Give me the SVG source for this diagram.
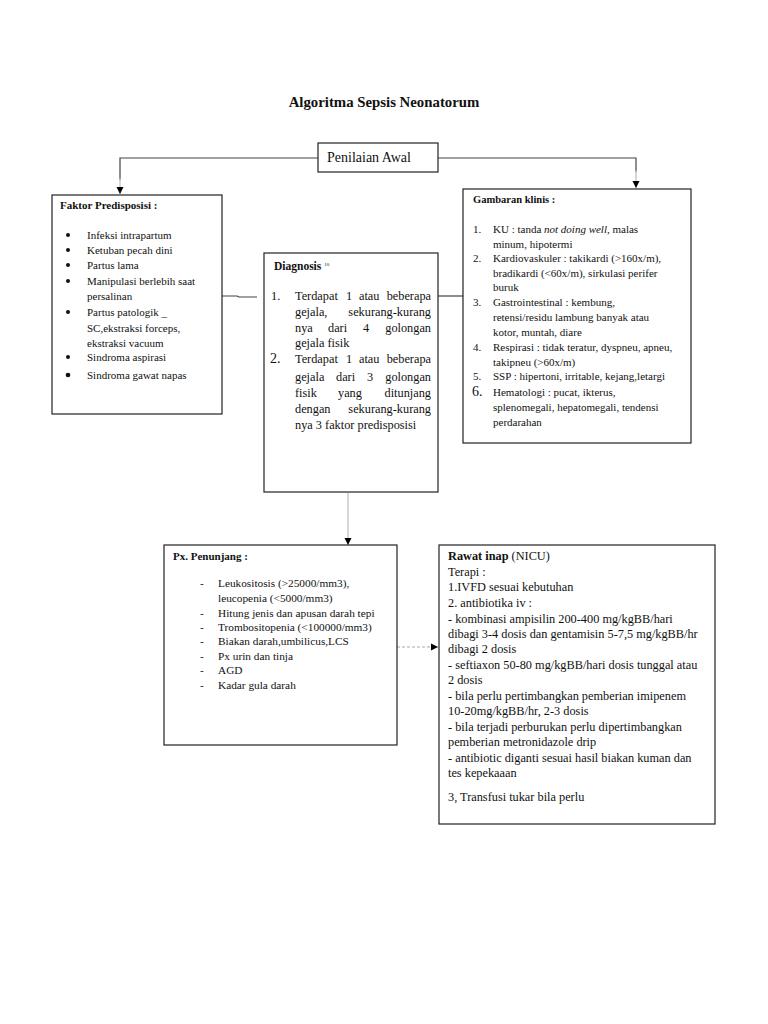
<svg xmlns="http://www.w3.org/2000/svg" width="768" height="1024" viewBox="0 0 768 1024">
<defs>
<marker id="arr" markerWidth="8" markerHeight="8" refX="7" refY="4" orient="auto" markerUnits="userSpaceOnUse">
<path d="M0,0.5 L7,4 L0,7.5 Z" fill="#000"/>
</marker>
<style>
.box{fill:#fff;stroke:#222;stroke-width:1.2}
.t{font-family:"Liberation Serif","Times New Roman",serif;fill:#111}
.b{font-weight:bold}
.ln{stroke:#444;stroke-width:1.2;fill:none}
.lt{stroke:#bbb;stroke-width:1.2;fill:none}
.dash{stroke:#aaa;stroke-width:1;stroke-dasharray:3,2;fill:none}
</style>
</defs>
<rect width="768" height="1024" fill="#fff"/>
<text class="t b" x="384" y="107" font-size="14.8" text-anchor="middle">Algoritma Sepsis Neonatorum</text>

<g id="connectors">
<path class="ln" d="M318,158 H120 V180"/>
<path class="lt" d="M120,178 V194" marker-end="url(#arr)"/>
<path class="ln" d="M438,158 H636 V172"/>
<path class="lt" d="M636,170 V188" marker-end="url(#arr)"/>
<path class="ln" d="M222,296 H237 L239,297 H257"/>
<path class="ln" d="M438,296 H463"/>
<path class="lt" d="M348,493 V545" marker-end="url(#arr)"/>
<path class="dash" d="M397,647 H438" marker-end="url(#arr)"/>
</g>

<g id="penilaian">
<rect class="box" x="318" y="143" width="120" height="29"/>
<text class="t" x="327" y="162" font-size="14">Penilaian Awal</text>
</g>

<g id="faktor">
<rect class="box" x="52" y="195" width="170" height="219"/>
<g class="t" font-size="11">
<text class="b" x="60" y="209">Faktor Predisposisi :</text>
<text x="87" y="239">Infeksi intrapartum</text>
<text x="87" y="254">Ketuban pecah dini</text>
<text x="87" y="269">Partus lama</text>
<text x="87" y="285">Manipulasi berlebih saat</text>
<text x="87" y="300">persalinan</text>
<text x="87" y="316">Partus patologik  _</text>
<text x="87" y="332">SC,ekstraksi forceps,</text>
<text x="87" y="347">ekstraksi vacuum</text>
<text x="87" y="361">Sindroma aspirasi</text>
<text x="87" y="379">Sindroma gawat napas</text>
</g>
<g fill="#111">
<circle cx="68" cy="235" r="2"/>
<circle cx="68" cy="250" r="2"/>
<circle cx="68" cy="265" r="2"/>
<circle cx="68" cy="281" r="2"/>
<circle cx="68" cy="312" r="2"/>
<circle cx="68" cy="357" r="2"/>
<circle cx="68" cy="375" r="2.3"/>
</g>
</g>

<g id="diagnosis">
<rect class="box" x="264" y="253" width="174" height="239"/>
<g class="t" font-size="12.3">
<text class="b" x="274" y="270" font-size="11.5">Diagnosis <tspan font-size="5" font-weight="normal" dy="-4">10</tspan></text>
<text x="271" y="300">1.</text>
<text y="300"><tspan x="295">Terdapat</tspan><tspan x="346">1</tspan><tspan x="359">atau</tspan><tspan x="431" text-anchor="end">beberapa</tspan></text>
<text y="316"><tspan x="295">gejala,</tspan><tspan x="431" text-anchor="end">sekurang-kurang</tspan></text>
<text y="332"><tspan x="295">nya</tspan><tspan x="328">dari</tspan><tspan x="363">4</tspan><tspan x="431" text-anchor="end">golongan</tspan></text>
<text x="295" y="347">gejala fisik</text>
<text x="270" y="363" font-size="14">2.</text>
<text y="363"><tspan x="295">Terdapat</tspan><tspan x="346">1</tspan><tspan x="359">atau</tspan><tspan x="431" text-anchor="end">beberapa</tspan></text>
<text y="381"><tspan x="295">gejala</tspan><tspan x="336">dari</tspan><tspan x="367">3</tspan><tspan x="431" text-anchor="end">golongan</tspan></text>
<text y="397"><tspan x="295">fisik</tspan><tspan x="338">yang</tspan><tspan x="431" text-anchor="end">ditunjang</tspan></text>
<text y="413"><tspan x="295">dengan</tspan><tspan x="431" text-anchor="end">sekurang-kurang</tspan></text>
<text x="295" y="429">nya 3 faktor predisposisi</text>
</g>
</g>

<g id="gambaran">
<rect class="box" x="463" y="189" width="228" height="254"/>
<g class="t" font-size="11">
<text class="b" x="473" y="203" font-size="10.5">Gambaran klinis :</text>
<text x="473" y="233">1.</text><text x="493" y="233">KU : tanda <tspan font-style="italic">not doing well,</tspan> malas</text>
<text x="493" y="248">minum, hipotermi</text>
<text x="473" y="262">2.</text><text x="493" y="262">Kardiovaskuler : takikardi (&gt;160x/m),</text>
<text x="493" y="277">bradikardi (&lt;60x/m), sirkulasi perifer</text>
<text x="493" y="291">buruk</text>
<text x="473" y="306">3.</text><text x="493" y="306">Gastrointestinal : kembung,</text>
<text x="493" y="321">retensi/residu lambung banyak atau</text>
<text x="493" y="336">kotor, muntah, diare</text>
<text x="473" y="351">4.</text><text x="493" y="351">Respirasi : tidak teratur, dyspneu, apneu,</text>
<text x="493" y="366">takipneu (&gt;60x/m)</text>
<text x="473" y="380">5.</text><text x="493" y="380">SSP : hipertoni, irritable, kejang,letargi</text>
<text x="472" y="396" font-size="14">6.</text><text x="493" y="396">Hematologi : pucat, ikterus,</text>
<text x="493" y="411">splenomegali, hepatomegali, tendensi</text>
<text x="493" y="426">perdarahan</text>
</g>
</g>

<g id="penunjang">
<rect class="box" x="164" y="545" width="233" height="200"/>
<g class="t" font-size="11.3">
<text class="b" x="173" y="560" font-size="11">Px. Penunjang :</text>
<text x="200" y="587">-</text><text x="218" y="587">Leukositosis (&gt;25000/mm3),</text>
<text x="218" y="602">leucopenia (&lt;5000/mm3)</text>
<text x="200" y="617">-</text><text x="218" y="617">Hitung jenis dan apusan darah tepi</text>
<text x="200" y="631">-</text><text x="218" y="631">Trombositopenia (&lt;100000/mm3)</text>
<text x="200" y="645">-</text><text x="218" y="645">Biakan darah,umbilicus,LCS</text>
<text x="200" y="660">-</text><text x="218" y="660">Px urin dan tinja</text>
<text x="200" y="674">-</text><text x="218" y="674">AGD</text>
<text x="200" y="689">-</text><text x="218" y="689">Kadar gula darah</text>
</g>
</g>

<g id="rawat">
<rect class="box" x="439" y="545" width="276" height="279"/>
<g class="t" font-size="12.3">
<text x="448" y="560"><tspan class="b">Rawat inap</tspan> (NICU)</text>
<text x="448" y="576">Terapi :</text>
<text x="448" y="591">1.IVFD sesuai kebutuhan</text>
<text x="448" y="607">2. antibiotika iv :</text>
<text x="448" y="623">- kombinasi ampisilin 200-400 mg/kgBB/hari</text>
<text x="448" y="638">dibagi 3-4 dosis dan gentamisin 5-7,5 mg/kgBB/hr</text>
<text x="448" y="653">dibagi 2 dosis</text>
<text x="448" y="669">- seftiaxon 50-80 mg/kgBB/hari dosis tunggal atau</text>
<text x="448" y="684">2 dosis</text>
<text x="448" y="700">- bila perlu pertimbangkan pemberian imipenem</text>
<text x="448" y="715">10-20mg/kgBB/hr, 2-3 dosis</text>
<text x="448" y="731">- bila terjadi perburukan perlu dipertimbangkan</text>
<text x="448" y="746">pemberian metronidazole drip</text>
<text x="448" y="762">- antibiotic diganti sesuai hasil biakan kuman dan</text>
<text x="448" y="777">tes kepekaaan</text>
<text x="448" y="801">3, Transfusi tukar bila perlu</text>
</g>
</g>
</svg>
